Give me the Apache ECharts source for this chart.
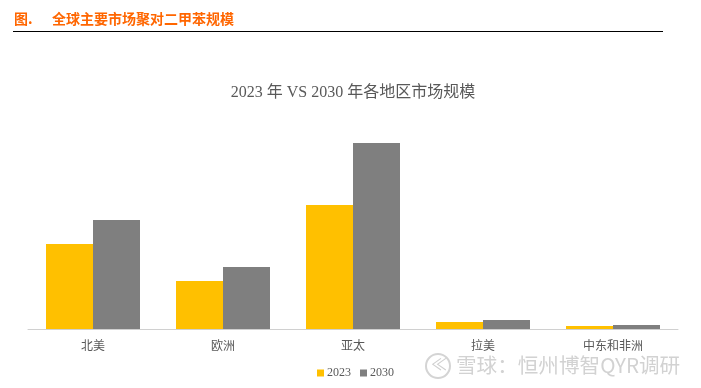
<!DOCTYPE html>
<html>
<head>
<meta charset="utf-8">
<script src="https://cdn.jsdelivr.net/npm/echarts@6/dist/echarts.min.js"></script>
<style>
html, body { margin: 0; padding: 0; background: #fff; }
#chart { width: 701px; height: 388px; }
</style>
</head>
<body>
<div id="chart"></div>
<script>
var categories = ['北美', '欧洲', '亚太', '拉美', '中东和非洲'];
var values2023 = [85, 48, 124, 7, 3];
var values2030 = [109, 62, 186, 9, 4];

var chart = echarts.init(document.getElementById('chart'), null, {renderer: 'canvas'});
var serifFont = '"Liberation Serif", "Noto Sans CJK SC", serif';
var cjkFont = '"Noto Sans CJK SC", sans-serif';

var option = {
    backgroundColor: '#fff',
    animation: false,
    title: [
        {
            text: '2023 年 VS 2030 年各地区市场规模',
            left: 348,
            top: 80,
            textAlign: 'center',
            textStyle: {color: '#595959', fontFamily: serifFont, fontWeight: 'normal', fontSize: 16}
        }
    ],
    legend: {
        left: 312,
        top: 362,
        itemWidth: 7,
        itemHeight: 7,
        itemGap: 9,
        icon: 'rect',
        textStyle: {color: '#595959', fontFamily: serifFont, fontSize: 12, padding: [0, 0, 0, -2]},
        data: ['2023', '2030']
    },
    grid: {left: 28, right: 23, top: 129, bottom: 59},
    xAxis: {
        type: 'category',
        data: categories,
        axisTick: {show: false},
        axisLine: {lineStyle: {color: '#d0d0d0', width: 1}},
        axisLabel: {color: '#595959', fontFamily: cjkFont, fontSize: 12, margin: 10, interval: 0}
    },
    yAxis: {
        type: 'value',
        min: 0,
        max: 200,
        show: false
    },
    series: [
        {name: '2023', type: 'bar', data: values2023, barWidth: 47, barGap: 0, itemStyle: {color: '#ffc000'}},
        {name: '2030', type: 'bar', data: values2030, barWidth: 47, barGap: 0, itemStyle: {color: '#7f7f7f'}}
    ],
    graphic: [
        // 页眉
        {type: 'text', left: 14, top: 12, style: {text: '图.', fill: '#ff6600', font: 'bold 14px ' + cjkFont}},
        {type: 'text', left: 52, top: 12, style: {text: '全球主要市场聚对二甲苯规模', fill: '#ff6600', font: 'bold 14px ' + cjkFont}},
        {type: 'line', shape: {x1: 13, y1: 31.5, x2: 663, y2: 31.5}, style: {stroke: '#000', lineWidth: 1}},
        // 水印
        {type: 'circle', shape: {cx: 438, cy: 366, r: 12}, style: {fill: 'none', stroke: '#d4d4d4', lineWidth: 2}},
        {type: 'text', left: 431, top: 356, style: {text: '≪', fill: '#cfcfcf', font: '16px ' + cjkFont}},
        {type: 'text', left: 456, top: 355, style: {text: '雪球：恒州博智QYR调研', fill: '#d2d2d2', font: '20.6px ' + cjkFont}}
    ]
};
chart.setOption(option);
</script>
</body>
</html>
